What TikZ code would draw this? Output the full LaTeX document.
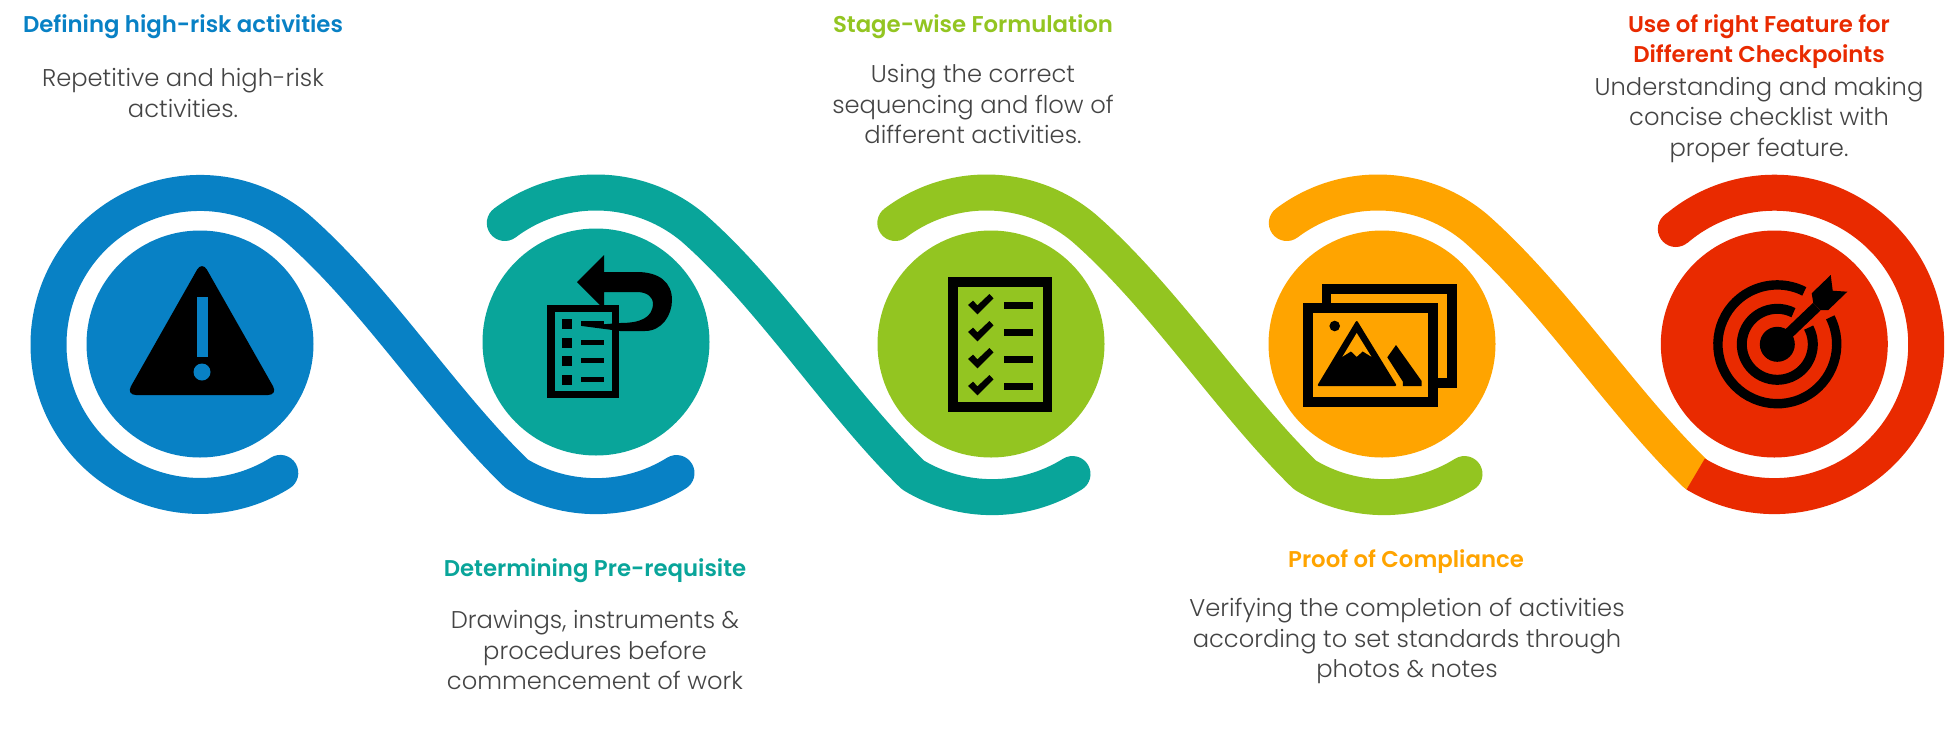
\documentclass[tikz,border=0pt]{standalone}
\usepackage{fontspec}
\setmainfont{Poppins}[UprightFont=* Light,BoldFont=* SemiBold]
\definecolor{cblue}{HTML}{0881C5}
\definecolor{cteal}{HTML}{09A59A}
\definecolor{cgreen}{HTML}{93C521}
\definecolor{corange}{HTML}{FFA400}
\definecolor{cred}{HTML}{E92A00}
\definecolor{ctext}{HTML}{444444}
\tikzset{
  disc/.style={circle,inner sep=0pt,minimum size=113.5pt},
  band/.style={line width=18pt,line cap=round,line join=round},
  bandflat/.style={line width=18pt,line join=round},
  heading/.style={font=\fontsize{11.4pt}{15pt}\selectfont\bfseries,align=center,inner sep=0pt},
  body/.style={font=\fontsize{12.1pt}{15.3pt}\selectfont,text=ctext,align=center,inner sep=0pt},
}
\begin{document}
\begin{tikzpicture}[x=0.5pt,y=-0.5pt]
\useasboundingbox (0,0) rectangle (1948,735);
\fill[white] (0,0) rectangle (1948,735);

% ribbons
\draw[band,cblue] (280.3,472.9) arc[start angle=58,end angle=310,radius=151.5]
  .. controls (376,297) and (443,403) .. (517,474)
  arc[start angle=121.3,end angle=58,radius=152];
\draw[band,cteal] (504.8,223) arc[start angle=233,end angle=310,radius=151.5]
  .. controls (772,297) and (839,403) .. (913,475)
  arc[start angle=121.3,end angle=58,radius=152];
\draw[band,cgreen] (895.3,223) arc[start angle=233,end angle=310,radius=151.5]
  .. controls (1163,297) and (1231,403) .. (1305,475)
  arc[start angle=121.3,end angle=58,radius=152];
\draw[band,corange] (1286.8,223) arc[start angle=233,end angle=310,radius=151.5]
  .. controls (1554,297) and (1622,403) .. (1695.7,474);
\draw[bandflat,cred] (1695.7,474) arc[start angle=121.3,end angle=-130.5,radius=151.7];
\fill[cred] (1675.8,229) circle[radius=18];

% discs
\node[disc,fill=cblue] (d1) at (200,344) {};
\node[disc,fill=cteal] (d2) at (596,342) {};
\node[disc,fill=cgreen] (d3) at (991,344) {};
\node[disc,fill=corange] (d4) at (1382,344) {};
\node[disc,fill=cred] (d5) at (1774.3,344) {};

% warning icon
\fill[black,rounded corners=5pt] (202,261) -- (278,395) -- (126,395) -- cycle;
\fill[cblue] (197,297) rectangle (207.5,357);
\fill[cblue] (202,372) circle[radius=8.5];

% document with return arrow
\fill[black] (547,305) rectangle (619,398);
\fill[cteal] (555,312) rectangle (612,391);
\foreach \yy in {319,338,356,375}{
  \fill[black] (562,\yy) rectangle (572,\yy+9.5);
  \fill[black] (581,\yy+2) rectangle (604,\yy+6.5);
}
\fill[black] (604,255) -- (577,282) -- (600,305) -- (604,305) -- (604,292) -- (637,292)
  .. controls (648,292) and (653,298) .. (653,303)
  .. controls (653,318) and (640,323) .. (620,323)
  -- (582,326) -- (620,331) -- (645,331)
  .. controls (662,331) and (672,315) .. (672,300)
  .. controls (672,283) and (660,272) .. (637,272)
  -- (604,272) -- cycle;

% checklist icon
\fill[black] (948,277) rectangle (1052,412);
\fill[cgreen] (958,287) rectangle (1042.5,402);
\foreach \yy in {0,27,54,81}{
  \fill[black] (968,305+\yy) -- (973,300.7+\yy) -- (977.5,305.3+\yy) -- (989.4,294+\yy)
     -- (993.5,298.3+\yy) -- (977.5,314.3+\yy) -- cycle;
  \fill[black] (1003.7,302+\yy) rectangle (1032.7,309+\yy);
}

% pictures icon
\fill[black] (1321.6,284) rectangle (1456.7,388.3);
\fill[corange] (1331.4,294) rectangle (1446.5,378.3);
\fill[black] (1302.9,302.7) rectangle (1438,406.7);
\fill[corange] (1313,312.7) rectangle (1428,397);
\fill[black] (1334.7,326) circle[radius=5.3];
\fill[black,rounded corners=1pt] (1356.7,320) -- (1397,386) -- (1317,386) -- cycle;
\fill[corange] (1356.7,333) -- (1371.4,356.7) -- (1362.7,351.3) -- (1356.7,356.7)
  -- (1351,351.3) -- (1342.4,356.7) -- cycle;
\fill[black] (1396,345) -- (1387.3,357.3) -- (1402.9,381.7) -- (1402.9,386) -- (1421.6,386) -- (1421.6,381) -- cycle;

% target icon
\draw[black,line width=4.7pt] (1777.3,344.3)+(-27:59.4) arc[start angle=-27,end angle=297,radius=59.4];
\draw[black,line width=5pt] (1777.3,344.3)+(-28:35.5) arc[start angle=-28,end angle=297,radius=35.5];
\fill[black] (1777.3,344.3) circle[radius=17.5];
\draw[black,line width=5.3pt] (1777.3,344.3) -- (1816.7,306.7);
\fill[black] (1811.7,293.3) -- (1830.7,275) -- (1832.7,290.7) -- (1847.3,291.7) -- (1828.3,310)
  -- (1820,310) -- (1813.3,303.3) -- cycle;

% texts
\node[heading,text=cblue] (t1) at (183,27) {Defining high-risk activities};
\node[body] (b1) at (183,93) {Repetitive and high-risk\\activities.};
\node[heading,text=cteal] (t2) at (595,571) {Determining Pre-requisite};
\node[body] (b2) at (595,650) {Drawings, instruments \&\\procedures before\\commencement of work};
\node[heading,text=cgreen] (t3) at (973,27) {Stage-wise Formulation};
\node[body] (b3) at (973,104) {Using the correct\\sequencing and flow of\\different activities.};
\node[heading,text=corange] (t4) at (1406,562) {Proof of Compliance};
\node[body] (b4) at (1407,641) {Verifying the completion of activities\\according to set standards through\\photos \& notes};
\node[heading,text=cred] (t5) at (1759,42) {Use of right Feature for\\Different Checkpoints};
\node[body] (b5) at (1759,120) {Understanding and making\\concise checklist with\\proper feature.};
\end{tikzpicture}
\end{document}
